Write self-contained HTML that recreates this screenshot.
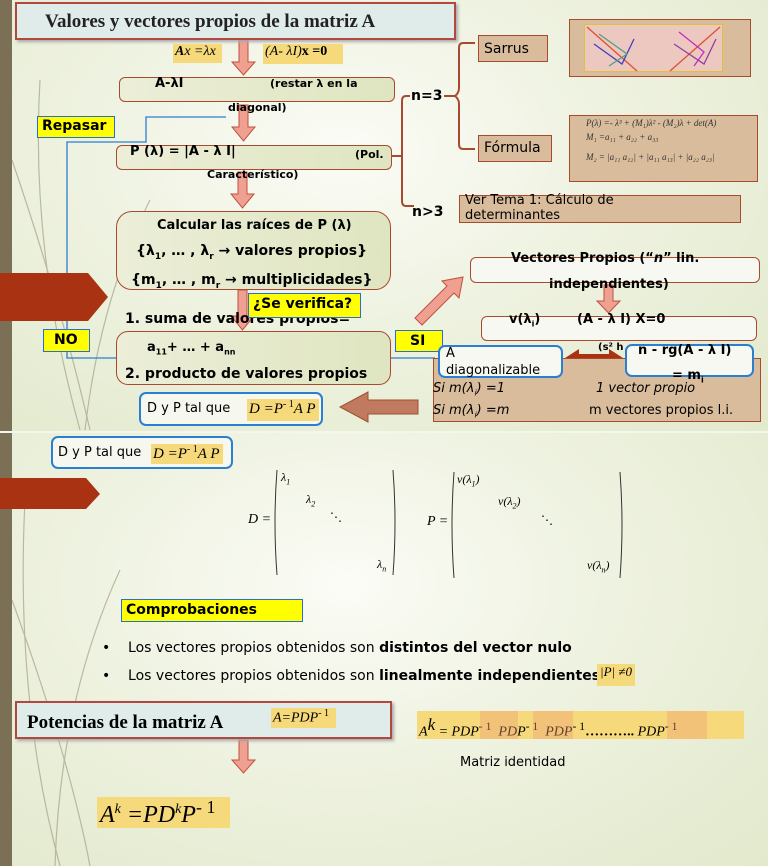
<!DOCTYPE html>
<html><head><meta charset="utf-8"><style>
*{margin:0;padding:0;box-sizing:border-box}
body{width:768px;height:866px;position:relative;overflow:hidden;font-family:"DejaVu Sans","Liberation Sans",sans-serif;background:#e6ebd3}
.a{position:absolute;white-space:nowrap}
.slide{position:absolute;left:0;width:768px;background:radial-gradient(ellipse at 45% 35%,#fbfcf6 0%,#eef2e0 45%,#e2e9cc 100%)}
.strip{position:absolute;left:0;width:12px;background:#7b7056}
.box{position:absolute;border:1.5px solid #a84a30;border-radius:6px;background:linear-gradient(90deg,#eceed8,#dfe5c0)}
.yel{position:absolute;background:#ffff00;border:1.5px solid #2a6fd0;font-weight:bold;font-size:14px;padding:2px 4px}
.brn{position:absolute;background:#d8bc9c;border:1.5px solid #a84a30}
.hl{position:absolute;background:#f6d97a;font-family:"Liberation Serif",serif;font-style:italic;white-space:nowrap}
.b{font-weight:bold}
.s{font-family:"Liberation Serif",serif;font-style:italic}
</style></head><body>
<div class="slide" style="top:0;height:432px"></div>
<div class="slide" style="top:432px;height:434px"></div>
<div class="strip" style="top:0;height:866px"></div>
<div class="a" style="left:0;top:431px;width:768px;height:2px;background:#f4f6ec"></div>

<svg class="a" style="left:0;top:0" width="768" height="866">
 <g fill="none" stroke="#9a9478" stroke-width="1.2" opacity=".6">
  <path d="M40 80 Q30 250 80 430"/><path d="M12 160 Q60 300 90 430"/><path d="M150 200 Q100 300 85 430"/>
  <path d="M25 500 Q15 700 60 866"/><path d="M120 570 Q60 700 55 866"/><path d="M12 600 Q70 760 90 866"/>
 </g>
 <g fill="#f0a090" stroke="#c05040" stroke-width="1">
  <path d="M239 40h9v22h7l-11.5 13-11.5-13h7z"/>
  <path d="M239 105h9v22h7l-11.5 14-11.5-14h7z"/>
  <path d="M238 172h9v22h7l-11.5 14-11.5-14h7z"/>
  <path d="M238 290h9v26h7l-11.5 14-11.5-14h7z"/>
  <path d="M604 285h9v16h7l-11.5 12-11.5-12h7z"/>
  <path d="M239 740h9v20h7l-11.5 13-11.5-13h7z"/>
  <path d="M415 318l32-32-5-5 21-4-4 21-5-5-32 32z"/>
 </g>
 <path d="M418 400v14h-50v8l-28-15 28-15v8z" fill="#c07a60" stroke="#a05030"/>
 <g fill="none" stroke="#a84a30" stroke-width="2">
  <path d="M410 96h-4q-4 0-4 5v100q0 5 4 5h8"/>
  <path d="M392 156h10"/>
  <path d="M475 43h-12q-4 0-4 5v40q0 5-4 8q4 3 4 8v40q0 5 4 5h12"/>
  <path d="M444 96h11"/>
 </g>
 <path d="M226 117H146v25H67v216h50" fill="none" stroke="#2a7fd0" stroke-width="1.3"/>
 <path d="M391 358h44" stroke="#2a7fd0" stroke-width="1.3"/>
 <path d="M0 273h88l20 24-20 24H0z" fill="#a83212"/>
 <path d="M0 478h86l14 16-14 15H0z" fill="#a83212"/>
 <path d="M565 358l14-9v5h30v-5l14 9-14 9v-5h-30v5z" fill="#a83212"/>
 <path d="M522 328h14v-4l6 6-6 6v-4h-14z" fill="#a83212"/>
 <path d="M530 385h48" stroke="#1e7ad0" stroke-width="4"/><path d="M576 379l14 6-14 6z" fill="#1e7ad0"/>
 <path d="M530 408h48" stroke="#1e7ad0" stroke-width="4"/><path d="M576 402l14 6-14 6z" fill="#1e7ad0"/>
 <g fill="none" stroke="#333" stroke-width="1">
  <path d="M277 470q-4 52 0 105"/><path d="M393 470q4 52 0 105"/>
  <path d="M454 472q-4 53 0 106"/><path d="M620 472q4 53 0 106"/>
 </g>
</svg>

<div class="a" style="left:15px;top:2px;width:441px;height:38px;background:#e0ecea;border:2px solid #b04a40;box-shadow:2px 2px 3px #aaa"></div>
<div class="a b" style="left:45px;top:11px;font-family:'Liberation Serif',serif;font-size:19px;color:#222">Valores y vectores propios de la matriz A</div>
<div class="hl" style="left:173px;top:44px;width:49px;height:19px;font-size:14px;padding-left:2px"><b>A</b>x =λx</div>
<div class="hl" style="left:263px;top:44px;width:80px;height:20px;font-size:14px;padding-left:2px">(A- λI)<b style="font-style:normal">x =0</b></div>

<div class="box" style="left:119px;top:77px;width:276px;height:25px"></div>
<div class="a b" style="left:155px;top:76px;font-size:13px">A-λI</div>
<div class="a b" style="left:270px;top:77px;font-size:11px">(restar λ en la</div>
<div class="a b" style="left:228px;top:101px;font-size:11px">diagonal)</div>

<div class="yel" style="left:37px;top:116px;width:78px;height:22px;padding-top:1px">Repasar</div>

<div class="box" style="left:116px;top:145px;width:276px;height:25px"></div>
<div class="a b" style="left:130px;top:144px;font-size:13px">P (λ) = |A - λ I|</div>
<div class="a b" style="left:355px;top:148px;font-size:11px">(Pol.</div>
<div class="a b" style="left:207px;top:168px;font-size:11px">Característico)</div>

<div class="box" style="left:116px;top:211px;width:275px;height:79px;border-radius:16px"></div>
<div class="a b" style="left:157px;top:218px;font-size:13px">Calcular las raíces de P (λ)</div>
<div class="a b" style="left:136px;top:243px;font-size:14px">{λ<sub style="font-size:9px">1</sub>, … , λ<sub style="font-size:9px">r</sub> → valores propios}</div>
<div class="a b" style="left:131px;top:272px;font-size:14px">{m<sub style="font-size:9px">1</sub>, … , m<sub style="font-size:9px">r</sub> → multiplicidades}</div>

<div class="box" style="left:116px;top:331px;width:275px;height:54px;border-radius:12px"></div>
<div class="a b" style="left:125px;top:311px;font-size:14px">1. suma de valores propios=</div>
<div class="yel" style="left:248px;top:293px;width:113px;height:25px;font-size:14px">¿Se verifica?</div>
<div class="a b" style="left:147px;top:340px;font-size:13px">a<sub style="font-size:8px">11</sub>+ … + a<sub style="font-size:8px">nn</sub></div>
<div class="a b" style="left:125px;top:366px;font-size:14px">2. producto de valores propios</div>
<div class="yel" style="left:43px;top:329px;width:47px;height:23px;padding-left:10px">NO</div>
<div class="yel" style="left:395px;top:330px;width:48px;height:22px;padding-left:14px">SI</div>

<div class="a" style="left:139px;top:392px;width:184px;height:34px;border:2px solid #2a7fd0;border-radius:7px;background:#f6f8f0"></div>
<div class="a" style="left:147px;top:401px;font-size:13px">D y P tal que</div>
<div class="hl" style="left:247px;top:399px;width:72px;height:22px;font-size:15px;padding-left:2px">D =P<sup style="font-size:10px;font-style:normal">- 1</sup>A P</div>

<div class="a b" style="left:411px;top:88px;font-size:14px">n=3</div>
<div class="a b" style="left:412px;top:204px;font-size:14px">n&gt;3</div>
<div class="brn" style="left:478px;top:35px;width:70px;height:27px"></div>
<div class="a" style="left:484px;top:41px;font-size:14px">Sarrus</div>
<div class="brn" style="left:478px;top:135px;width:74px;height:27px"></div>
<div class="a" style="left:484px;top:140px;font-size:14px">Fórmula</div>
<div class="brn" style="left:569px;top:19px;width:182px;height:58px"></div>
<div class="a" style="left:584px;top:24px;width:139px;height:48px;background:#ecc8c0;border:1px solid #e0c040"></div>
<svg class="a" style="left:584px;top:24px" width="139" height="48"><g fill="none" stroke-width="1.3"><path d="M3 3l50 44" stroke="#e05030"/><path d="M136 3l-50 44" stroke="#e05030"/><path d="M10 20l28 20 12-25" stroke="#4040c0"/><path d="M15 10l28 20-18 12" stroke="#50a080"/><path d="M90 20l30 20 12-25" stroke="#9040a0"/><path d="M95 8l25 20-10 14" stroke="#c030c0"/></g></svg>
<div class="brn" style="left:569px;top:115px;width:189px;height:67px"></div>
<div class="a s" style="left:586px;top:116px;font-size:9px;line-height:14px;color:#333">P(λ) =- λ³ + (M₁)λ² - (M₂)λ + det(A)<br>M₁ =a₁₁ + a₂₂ + a₃₃<br><span style="position:relative;top:6px">M₂ = |a₁₁ a₁₂| + |a₁₁ a₁₃| + |a₂₂ a₂₃|</span></div>
<div class="brn" style="left:459px;top:195px;width:282px;height:28px"></div>
<div class="a" style="left:465px;top:193px;font-size:13px;line-height:15px">Ver Tema 1: Cálculo de<br>determinantes</div>

<div class="a" style="left:470px;top:257px;width:290px;height:26px;border:1.5px solid #a84a30;border-radius:6px;background:#f8f8f2"></div>
<div class="a b" style="left:511px;top:251px;font-size:13px">Vectores Propios (“<i>n</i>” lin.</div>
<div class="a b" style="left:549px;top:277px;font-size:13px">independientes)</div>
<div class="a" style="left:481px;top:316px;width:276px;height:25px;border:1.5px solid #a84a30;border-radius:6px;background:#f8f8f2"></div>
<div class="a b" style="left:509px;top:312px;font-size:13px">v(λ<sub style="font-size:8px">i</sub>)</div>
<div class="a b" style="left:577px;top:312px;font-size:13px">(A - λ I) X=0</div>

<div class="brn" style="left:433px;top:358px;width:328px;height:64px"></div>
<div class="a b" style="left:598px;top:342px;font-size:10px">(s² h</div>
<div class="a" style="left:438px;top:345px;width:125px;height:33px;border:2px solid #2a7fd0;border-radius:7px;background:#f8f8f2"></div>
<div class="a" style="left:446px;top:345px;font-size:13px;line-height:17px">A<br>diagonalizable</div>
<div class="a" style="left:625px;top:344px;width:129px;height:33px;border:2px solid #2a7fd0;border-radius:7px;background:#f8f8f2"></div>
<div class="a b" style="left:638px;top:343px;font-size:13px">n - rg(A - λ I)</div>
<div class="a b" style="left:672px;top:368px;font-size:13px">= m<sub style="font-size:8px">i</sub></div>
<div class="a" style="left:433px;top:381px;font-size:13px;font-style:italic">Si m(λ<sub style="font-size:8px">i</sub>) =1</div>
<div class="a" style="left:596px;top:381px;font-size:13px;font-style:italic">1 vector propio</div>
<div class="a" style="left:433px;top:403px;font-size:13px;font-style:italic">Si m(λ<sub style="font-size:8px">i</sub>) =m</div>
<div class="a" style="left:589px;top:403px;font-size:13px">m vectores propios l.i.</div>

<div class="a" style="left:51px;top:436px;width:182px;height:33px;border:2px solid #2a7fd0;border-radius:7px;background:#f6f8f0"></div>
<div class="a" style="left:58px;top:445px;font-size:13px">D y P tal que</div>
<div class="hl" style="left:151px;top:444px;width:72px;height:20px;font-size:15px;padding-left:2px">D =P<sup style="font-size:10px;font-style:normal">- 1</sup>A P</div>

<div class="a s" style="left:248px;top:512px;font-size:14px">D =</div>
<div class="a s" style="left:281px;top:470px;font-size:12px">λ<sub style="font-size:8px">1</sub></div>
<div class="a s" style="left:306px;top:492px;font-size:12px">λ<sub style="font-size:8px">2</sub></div>
<div class="a" style="left:330px;top:510px;font-size:12px">⋱</div>
<div class="a s" style="left:377px;top:557px;font-size:12px">λ<sub style="font-size:8px">n</sub></div>
<div class="a s" style="left:427px;top:514px;font-size:14px">P =</div>
<div class="a s" style="left:457px;top:472px;font-size:12px">v(λ<sub style="font-size:8px">1</sub>)</div>
<div class="a s" style="left:498px;top:494px;font-size:12px">v(λ<sub style="font-size:8px">2</sub>)</div>
<div class="a" style="left:541px;top:513px;font-size:12px">⋱</div>
<div class="a s" style="left:587px;top:558px;font-size:12px">v(λ<sub style="font-size:8px">n</sub>)</div>

<div class="yel" style="left:121px;top:599px;width:182px;height:23px;padding-top:2px">Comprobaciones</div>
<div class="a" style="left:102px;top:640px;font-size:14px">•&nbsp;&nbsp;&nbsp; Los vectores propios obtenidos son <b>distintos del vector nulo</b></div>
<div class="a" style="left:102px;top:668px;font-size:14px">•&nbsp;&nbsp;&nbsp;&nbsp;Los vectores propios obtenidos son <b>linealmente independientes</b></div>
<div class="hl" style="left:597px;top:664px;width:38px;height:22px;font-size:13px;padding-left:3px">|P| ≠0</div>

<div class="a" style="left:15px;top:701px;width:377px;height:38px;background:#e0ecea;border:2px solid #b04a40;box-shadow:2px 2px 3px #aaa"></div>
<div class="a b" style="left:27px;top:712px;font-family:'Liberation Serif',serif;font-size:19px">Potencias de la matriz A</div>
<div class="hl" style="left:271px;top:708px;width:65px;height:20px;font-size:14px;padding-left:2px">A=PDP<sup style="font-size:10px;font-style:normal">- 1</sup></div>

<div class="hl" style="left:417px;top:711px;width:327px;height:28px;font-size:14px;padding-left:2px;padding-top:4px">A<sup style="font-size:17px">k</sup> = PDP<sup style="font-style:normal">- 1</sup> &nbsp;PDP<sup style="font-style:normal">- 1</sup> &nbsp;PDP<sup style="font-style:normal">- 1</sup><b style="font-style:normal">………..</b> PDP<sup style="font-style:normal">- 1</sup></div>
<div class="a" style="left:480px;top:711px;width:38px;height:28px;background:rgba(240,160,120,.4)"></div>
<div class="a" style="left:533px;top:711px;width:40px;height:28px;background:rgba(240,160,120,.4)"></div>
<div class="a" style="left:667px;top:711px;width:40px;height:28px;background:rgba(240,160,120,.4)"></div>
<div class="a" style="left:460px;top:755px;font-size:13px">Matriz identidad</div>

<div class="hl" style="left:97px;top:797px;width:133px;height:31px;font-size:24px;padding-left:3px">A<sup style="font-size:14px">k</sup> =PD<sup style="font-size:14px">k</sup>P<sup style="font-style:normal;font-size:18px">- 1</sup></div>
</body></html>
